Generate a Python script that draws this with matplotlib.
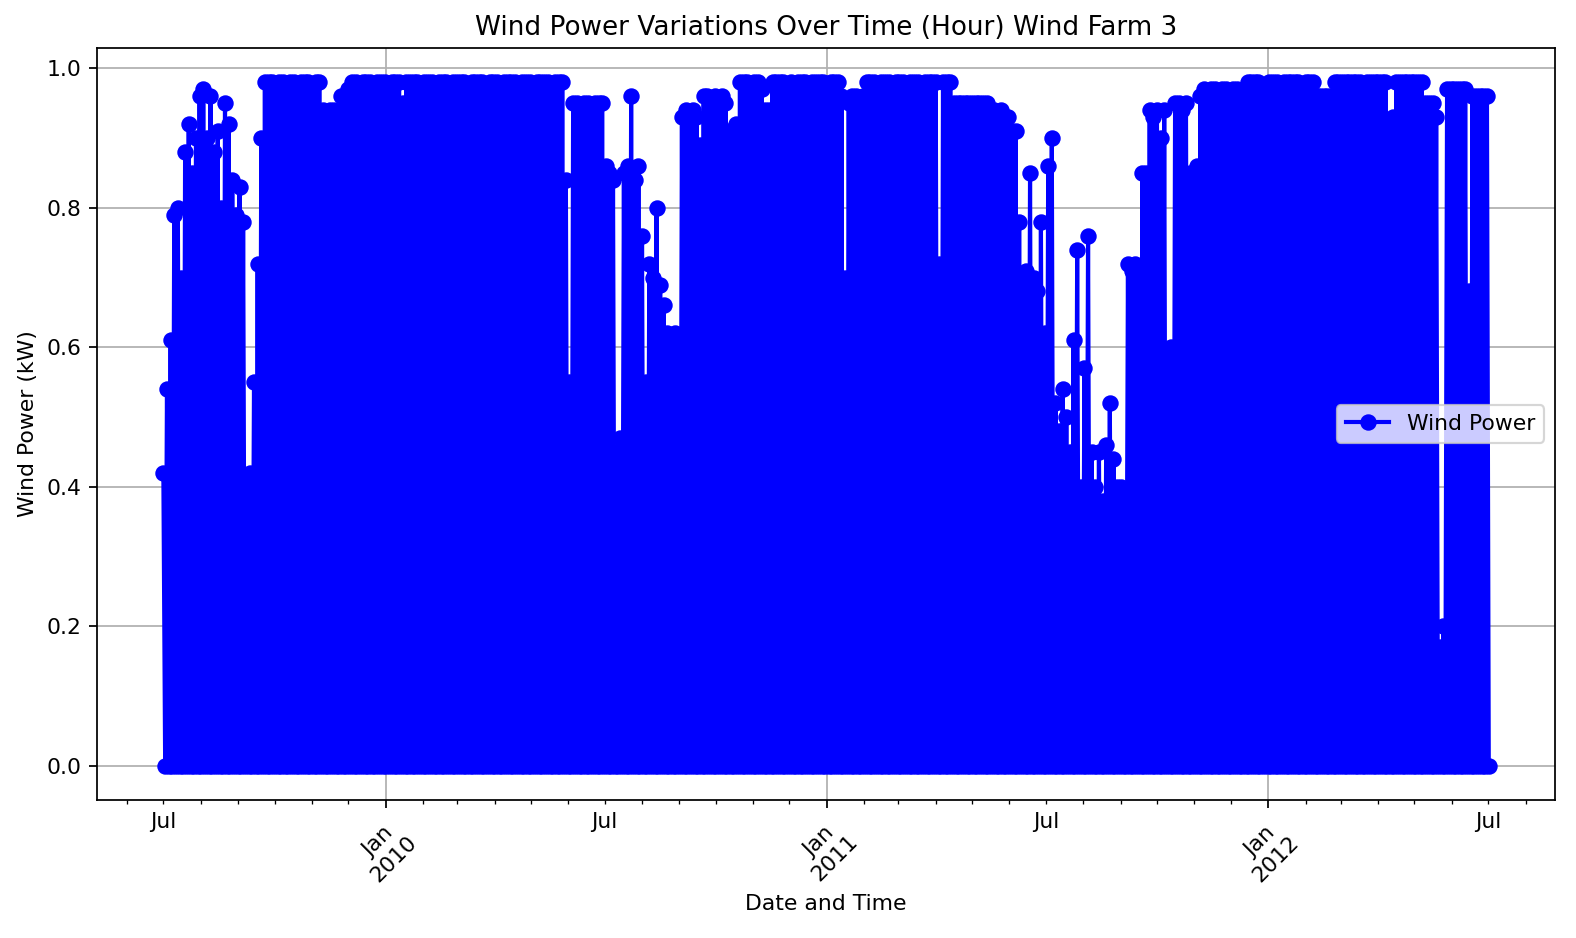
import matplotlib
matplotlib.use("Agg")
import matplotlib.pyplot as plt
import matplotlib.dates as mdates
from matplotlib.ticker import FuncFormatter
import numpy as np
import pandas as pd

# peak wind power read every 3 days from 2009-07-01 (upper envelope of the hourly trace)
start_date = "2009-07-01"
step_days = 3
peak_vals = [
    0.42, 0.54, 0.61, 0.79, 0.80, 0.70, 0.88, 0.92, 0.85, 0.90,
    0.96, 0.97, 0.90, 0.96, 0.88, 0.91, 0.80, 0.95, 0.92, 0.84,
    0.79, 0.83, 0.78, 0.40, 0.42, 0.55, 0.72, 0.90, 0.98, 0.98,
    0.98, 0.97, 0.98, 0.98, 0.96, 0.98, 0.98, 0.97, 0.98, 0.98,
    0.98, 0.97, 0.98, 0.98, 0.94, 0.93, 0.94, 0.94, 0.93, 0.96,
    0.96, 0.97, 0.98, 0.98, 0.97, 0.98, 0.98, 0.98, 0.96, 0.98,
    0.98, 0.98, 0.97, 0.98, 0.98, 0.98, 0.95, 0.98, 0.98, 0.98,
    0.98, 0.97, 0.98, 0.98, 0.98, 0.96, 0.98, 0.98, 0.98, 0.97,
    0.98, 0.98, 0.98, 0.98, 0.96, 0.98, 0.98, 0.98, 0.98, 0.97,
    0.98, 0.98, 0.98, 0.97, 0.98, 0.98, 0.98, 0.98, 0.96, 0.98,
    0.98, 0.98, 0.97, 0.98, 0.98, 0.98, 0.98, 0.96, 0.98, 0.98,
    0.98, 0.84, 0.55, 0.95, 0.95, 0.94, 0.95, 0.95, 0.94, 0.95,
    0.95, 0.95, 0.86, 0.85, 0.84, 0.45, 0.47, 0.85, 0.86, 0.96,
    0.84, 0.86, 0.76, 0.55, 0.72, 0.70, 0.80, 0.69, 0.66, 0.62,
    0.60, 0.62, 0.61, 0.93, 0.94, 0.92, 0.94, 0.93, 0.89, 0.96,
    0.96, 0.95, 0.96, 0.94, 0.96, 0.95, 0.91, 0.91, 0.92, 0.98,
    0.98, 0.98, 0.97, 0.98, 0.98, 0.97, 0.94, 0.94, 0.98, 0.98,
    0.98, 0.98, 0.97, 0.98, 0.96, 0.98, 0.98, 0.98, 0.97, 0.98,
    0.98, 0.98, 0.98, 0.97, 0.98, 0.98, 0.98, 0.96, 0.70, 0.95,
    0.96, 0.96, 0.95, 0.96, 0.98, 0.98, 0.98, 0.97, 0.98, 0.98,
    0.98, 0.97, 0.98, 0.98, 0.98, 0.96, 0.98, 0.98, 0.98, 0.97,
    0.98, 0.98, 0.98, 0.98, 0.72, 0.98, 0.98, 0.98, 0.95, 0.95,
    0.95, 0.95, 0.95, 0.95, 0.95, 0.95, 0.95, 0.95, 0.94, 0.94,
    0.93, 0.94, 0.93, 0.93, 0.91, 0.91, 0.78, 0.70, 0.71, 0.85,
    0.70, 0.68, 0.78, 0.62, 0.86, 0.90, 0.52, 0.48, 0.54, 0.50,
    0.45, 0.61, 0.74, 0.40, 0.57, 0.76, 0.45, 0.40, 0.45, 0.38,
    0.46, 0.52, 0.44, 0.40, 0.40, 0.39, 0.72, 0.71, 0.72, 0.70,
    0.85, 0.85, 0.94, 0.93, 0.94, 0.90, 0.94, 0.58, 0.60, 0.95,
    0.95, 0.94, 0.95, 0.85, 0.84, 0.86, 0.96, 0.97, 0.96, 0.97,
    0.97, 0.96, 0.97, 0.97, 0.96, 0.97, 0.97, 0.96, 0.97, 0.98,
    0.98, 0.98, 0.98, 0.97, 0.96, 0.98, 0.98, 0.98, 0.97, 0.98,
    0.98, 0.98, 0.98, 0.98, 0.97, 0.98, 0.98, 0.98, 0.96, 0.96,
    0.96, 0.96, 0.96, 0.98, 0.98, 0.98, 0.98, 0.98, 0.98, 0.98,
    0.98, 0.97, 0.98, 0.98, 0.98, 0.98, 0.98, 0.98, 0.92, 0.93,
    0.98, 0.98, 0.98, 0.98, 0.98, 0.98, 0.98, 0.98, 0.95, 0.95,
    0.95, 0.93, 0.17, 0.20, 0.97, 0.97, 0.97, 0.97, 0.97, 0.97,
    0.68, 0.96, 0.96, 0.96, 0.96, 0.96,
]
# output drops back to zero between the peaks
trough_val = 0.0

peak_times = pd.date_range(start_date, periods=len(peak_vals), freq=f"{step_days}D")
trough_times = peak_times + pd.Timedelta(hours=12 * step_days)

times = []
power = []
for t_p, v_p, t_t in zip(peak_times, peak_vals, trough_times):
    times += [t_p, t_t]
    power += [v_p, trough_val]
df = pd.DataFrame({"time": times, "power": power})

dpi = 157.6
fig = plt.figure(figsize=(1576 / dpi, 938 / dpi), dpi=dpi)
ax = fig.add_axes([0.0616, 0.1471, 0.9251, 0.8017])

ax.plot(df["time"], df["power"], marker="o", linestyle="-", color="b",
        linewidth=1.9, markersize=6.5, label="Wind Power")

ax.set_title("Wind Power Variations Over Time (Hour) Wind Farm 3")
ax.set_xlabel("Date and Time")
ax.set_ylabel("Wind Power (kW)")

ax.xaxis.set_major_locator(mdates.YearLocator())
ax.xaxis.set_major_formatter(mdates.DateFormatter("%b\n%Y"))
ax.xaxis.set_minor_locator(mdates.MonthLocator())
ax.xaxis.set_minor_formatter(
    FuncFormatter(lambda x, pos: "Jul" if mdates.num2date(x).month == 7 else "")
)
plt.setp(ax.get_xticklabels(), rotation=45)

ax.grid(True)
ax.legend(loc="center right")

fig.savefig("out.png", dpi=dpi)
